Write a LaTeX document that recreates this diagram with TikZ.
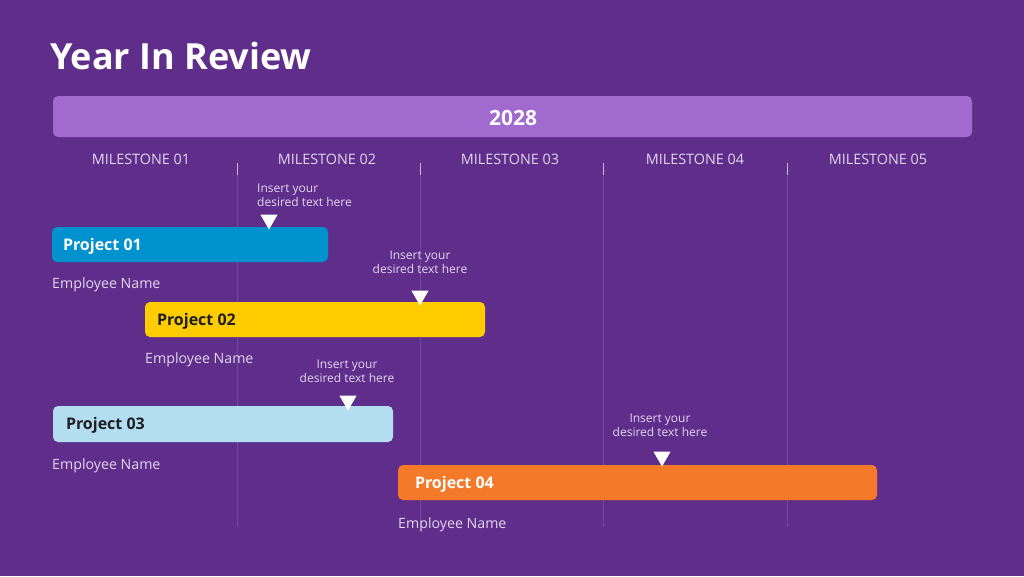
\documentclass[tikz,border=0pt]{standalone}
\usepackage{fontspec}
\setmainfont{Open Sans}
\usetikzlibrary{shapes.geometric}
\definecolor{bgpurple}{RGB}{95,45,138}
\definecolor{headbar}{RGB}{160,106,206}
\definecolor{softtext}{RGB}{228,214,240}
\definecolor{gridline}{RGB}{116,72,156}
\definecolor{gridtick}{RGB}{205,180,230}
\definecolor{pblue}{RGB}{0,145,207}
\definecolor{pyellow}{RGB}{255,204,0}
\definecolor{plight}{RGB}{179,222,240}
\definecolor{porange}{RGB}{244,122,42}
\definecolor{darktext}{RGB}{30,30,36}
\begin{document}
\begin{tikzpicture}[x=1pt,y=-1pt,
  bar/.style={rectangle,rounded corners=5pt,inner sep=0pt,draw=none},
  plabel/.style={anchor=west,inner sep=0pt,font=\fontsize{16}{19}\selectfont\bfseries},
  mslabel/.style={inner sep=0pt,text=softtext,font=\fontsize{14.4}{17}\selectfont},
  empname/.style={anchor=west,inner sep=0pt,text=softtext,font=\fontsize{14.2}{17}\selectfont},
  note/.style={inner sep=0pt,text=softtext,font=\fontsize{12}{14}\selectfont},
  marker/.style={regular polygon,regular polygon sides=3,shape border rotate=180,fill=white,inner sep=0pt,minimum size=20pt}
]
\useasboundingbox (0,0) rectangle (1024,576);
\fill[bgpurple] (0,0) rectangle (1024,576);

% title
\node[anchor=west,inner sep=0pt,text=white,font=\fontsize{36}{43}\selectfont\bfseries] (title) at (50,56) {Year In Review};

% header bar
\node[bar,fill=headbar,minimum width=919pt,minimum height=41pt] (year) at (512.5,116.5) {};
\node[inner sep=0pt,text=white,font=\fontsize{21}{25}\selectfont\bfseries] (yeart) at (513,118) {2028};

% milestones
\node[mslabel] (m1) at (141,159) {MILESTONE 01};
\node[mslabel] (m2) at (327,159) {MILESTONE 02};
\node[mslabel] (m3) at (510,159) {MILESTONE 03};
\node[mslabel] (m4) at (695,159) {MILESTONE 04};
\node[mslabel] (m5) at (878,159) {MILESTONE 05};

% grid lines
\foreach \gx in {237,420,603,787}{
  \draw[gridline,line width=0.8pt] (\gx,175) -- (\gx,527);
  \draw[gridtick,line width=1pt] (\gx,163) -- (\gx,175);
}

% bars
\node[bar,fill=pblue,minimum width=276pt,minimum height=35pt] (p1) at (190,244.5) {};
\node[plabel,text=white] (p1t) at ([xshift=11pt,yshift=-1.5pt]p1.west) {Project 01};
\node[empname] (e1) at (52,284.5) {Employee Name};

\node[bar,fill=pyellow,minimum width=340pt,minimum height=35pt] (p2) at (315,319.5) {};
\node[plabel,text=darktext] (p2t) at ([xshift=12pt,yshift=-1.5pt]p2.west) {Project 02};
\node[empname] (e2) at (145,359.5) {Employee Name};

\node[bar,fill=plight,minimum width=340pt,minimum height=36pt] (p3) at (223,424) {};
\node[plabel,text=darktext] (p3t) at ([xshift=13pt,yshift=-1.5pt]p3.west) {Project 03};
\node[empname] (e3) at (52,465.5) {Employee Name};

\node[bar,fill=porange,minimum width=479pt,minimum height=35pt] (p4) at (637.5,482.5) {};
\node[plabel,text=white] (p4t) at ([xshift=17pt,yshift=-1.5pt]p4.west) {Project 04};
\node[empname] (e4) at (398,524.5) {Employee Name};

% markers
\node[marker] (t1) at (269,219.5) {};
\node[marker] (t2) at (420,295.5) {};
\node[marker] (t3) at (348,400.5) {};
\node[marker] (t4) at (662,456.5) {};

% notes
\node[note,anchor=west,align=left] (n1) at (257,195) {Insert your\\desired text here};
\node[note,align=center] (n2) at (420,262.5) {Insert your\\desired text here};
\node[note,align=center] (n3) at (347,371.5) {Insert your\\desired text here};
\node[note,align=center] (n4) at (660,425.5) {Insert your\\desired text here};
\end{tikzpicture}
\end{document}
